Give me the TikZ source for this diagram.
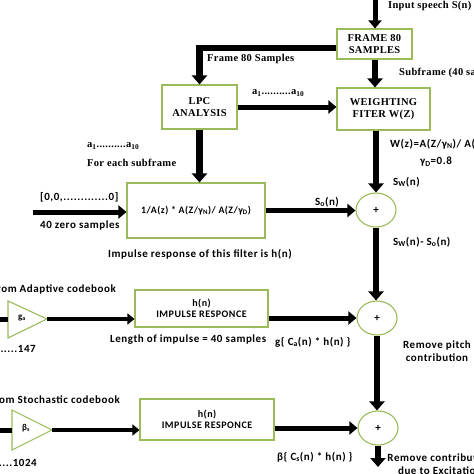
\documentclass[tikz,border=0pt]{standalone}
\usepackage{fontspec}
\setmainfont{Liberation Serif}
\newfontfamily\serb[LetterSpace=3]{Liberation Serif}
\newfontfamily\sanb[LetterSpace=5]{Carlito}
\usetikzlibrary{arrows.meta,shapes.geometric}
\definecolor{boxgreen}{HTML}{9BBB59}
\begin{document}
\begin{tikzpicture}[x=1pt,y=-1pt,
  blk/.style={draw=boxgreen, line width=1.1pt, fill=white, inner sep=0pt, align=center},
  sertxt/.style={font=\serb\bfseries\fontsize{10.5}{12.5}\selectfont},
  santxt/.style={font=\sanb\bfseries\fontsize{10.5}{11}\selectfont},
  sumc/.style={draw=boxgreen, line width=1.1pt, ellipse, minimum width=40pt, minimum height=34pt, inner sep=0pt, font=\sanb\bfseries\fontsize{11}{12}\selectfont},
  amp/.style={draw=boxgreen, line width=1.1pt, fill=white},
  fat/.style={line width=6.5pt, -{Triangle[length=9pt,width=15pt]}},
  mid/.style={line width=5pt, -{Triangle[length=8pt,width=13pt]}},
  slim/.style={line width=4pt, -{Triangle[length=7pt,width=11pt]}},
  ser/.style={font=\serb\bfseries\fontsize{10.5}{12}\selectfont, inner sep=0pt},
  san/.style={font=\sanb\bfseries\fontsize{11}{12.5}\selectfont, inner sep=0pt},
]
\useasboundingbox (0,0) rectangle (474,474);
\clip (0,0) rectangle (474,474);
\fill[white] (0,0) rectangle (474,474);

% boxes
\node[blk, sertxt, minimum width=75pt, minimum height=30pt] (frame) at (374.5,44) {FRAME 80\\SAMPLES};
\node[blk, sertxt, minimum width=75pt, minimum height=44pt] (lpc) at (199.5,107) {LPC\\ANALYSIS};
\node[blk, sertxt, minimum width=93pt, minimum height=42pt] (wf) at (383.5,109) {WEIGHTING\\FITER W(Z)};
\node[blk, minimum width=138pt, minimum height=55pt, font=\sanb\bfseries\fontsize{9.8}{11}\selectfont] (filt) at (196,210.5) {1/A(z) * A(Z/γ\textsubscript{N})/ A(Z/γ\textsubscript{D})};
\node[blk, minimum width=133pt, minimum height=37pt, font=\sanb\bfseries\fontsize{10}{10.5}\selectfont] (ir1) at (201.5,308.5) {h(n)\\IMPULSE RESPONCE};
\node[blk, minimum width=134pt, minimum height=41pt, font=\sanb\bfseries\fontsize{10}{10.5}\selectfont] (ir2) at (207,419.5) {h(n)\\IMPULSE RESPONCE};

% summing junctions
\node[sumc] (c1) at (376,210) {+};
\node[sumc] (c2) at (377,318) {+};
\node[sumc] (c3) at (378,428) {+};

% gain triangles
\coordinate (g1a) at (8,301); \coordinate (g1b) at (8,338); \coordinate (g1t) at (47,319); \coordinate (g1l) at (8,319);
\coordinate (g2a) at (12,410); \coordinate (g2b) at (12,450); \coordinate (g2t) at (52,430); \coordinate (g2l) at (12,430);
\draw[amp] (g1a) -- (g1t) -- (g1b) -- cycle;
\draw[amp] (g2a) -- (g2t) -- (g2b) -- cycle;
\node[san, font=\sanb\bfseries\fontsize{9}{10}\selectfont] (g1) at (22,318) {g\textsubscript{a}};
\node[san, font=\sanb\bfseries\fontsize{9}{10}\selectfont] (g2) at (26,428) {β\textsubscript{s}};

% free ends
\coordinate (top) at (375,0);
\coordinate (zin) at (33,212);
\coordinate (out) at (378,467);
\coordinate (a1) at (0,319);
\coordinate (a2) at (0,430);

% connectors
\draw[mid] (top) -- (frame.north -| top);
\draw[fat] ([yshift=-4pt]frame.west) -| (lpc.north);
\draw[fat] (frame.south -| top) -- (wf.north -| top);
\draw[mid] (lpc.east) -- (lpc.east -| wf.west);
\draw[fat] (wf.south -| c1.north) -- (c1.north);
\draw[fat] (lpc.south) -- (lpc.south |- filt.north);
\draw[mid] (zin) -- (zin -| filt.west);
\draw[mid] (filt.east) -- (filt.east -| c1.west);
\draw[fat] (c1.south) -- (c1.south |- c2.north);
\draw[fat] (c2.south) -- (c2.south |- c3.north);
\draw[fat] (c3.south) -- (out);
\draw[line width=5pt] (a1) -- (g1l);
\draw[line width=5pt] (a2) -- (g2l);
\draw[slim] (g1t) -- (g1t -| ir1.west);
\draw[slim] (g2t) -- (g2t -| ir2.west);
\draw[mid] (c2.west -| ir1.east) -- (c2.west);
\draw[mid] (c3.west -| ir2.east) -- (c3.west);

% serif labels
\node[ser, anchor=west] (tinp) at (388,6) {Input speech S(n)};
\node[ser, anchor=west] (tf80) at (207,59) {Frame 80 Samples};
\node[ser, anchor=west] (tsub) at (399,73) {Subframe (40 samples)};
\node[ser, anchor=west] (ta1) at (252,93) {a\textsubscript{1}..........a\textsubscript{10}};
\node[ser, anchor=west] (ta2) at (87,146) {a\textsubscript{1}..........a\textsubscript{10}};
\node[ser, anchor=west] (tfes) at (87,163) {For each subframe};

% sans labels
\node[san, anchor=west] (tw) at (390,144) {W(z)=A(Z/γ\textsubscript{N})/ A(Z/γ\textsubscript{D})};
\node[san, anchor=west] (tgd) at (420,162) {γ\textsubscript{D}=0.8};
\node[san, anchor=west] (tz) at (40,197) {[0,0,.............0]};
\node[san, anchor=west] (tz2) at (40,226) {40 zero samples};
\node[san, anchor=west] (timp) at (108,254) {Impulse response of this filter is h(n)};
\node[san, anchor=west] (tso) at (315,202) {S\textsubscript{o}(n)};
\node[san, anchor=west] (tsw) at (393,182) {S\textsubscript{W}(n)};
\node[san, anchor=west] (tdiff) at (393,242) {S\textsubscript{W}(n)- S\textsubscript{o}(n)};
\node[san, anchor=east] (tad) at (116,289) {From Adaptive codebook};
\node[san, anchor=east] (t147) at (36,349) {1.......................147};
\node[san, anchor=west] (tlen) at (110,340) {Length of impulse = 40 samples};
\node[san, anchor=west] (tga) at (275,342) {g\{ C\textsubscript{a}(n) * h(n) \}};
\node[san, align=center] (trp) at (437,351) {Remove pitch\\contribution};
\node[san, anchor=east] (tst) at (120,400) {From Stochastic codebook};
\node[san, anchor=east] (t1024) at (37,463) {1.......................1024};
\node[san, anchor=west] (tbs) at (277,457) {β\{ C\textsubscript{s}(n) * h(n) \}};
\node[san, align=center] (trc) at (440,464) {Remove contribution\\due to Excitation};
\end{tikzpicture}
\end{document}
